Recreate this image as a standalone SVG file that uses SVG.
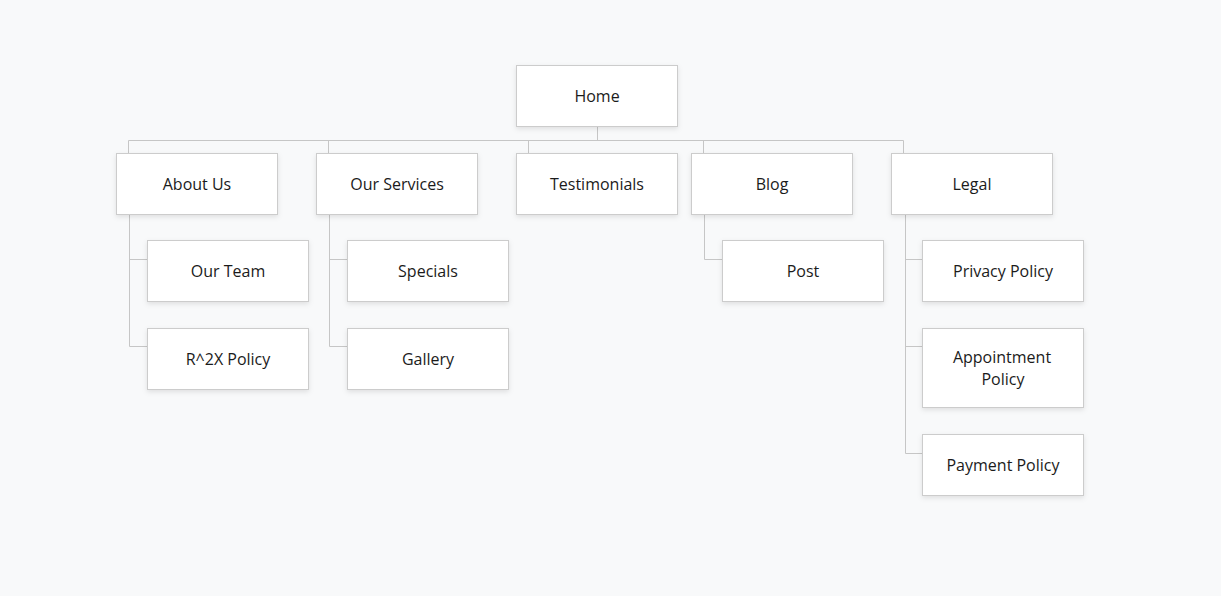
<svg xmlns="http://www.w3.org/2000/svg" width="1221" height="596" viewBox="0 0 1221 596">
<defs>
<filter id="sh" x="-10%" y="-10%" width="120%" height="130%">
<feDropShadow dx="0" dy="2" stdDeviation="2.5" flood-color="#000" flood-opacity="0.10"/>
</filter>
</defs>
<style>
.n rect{fill:#fff;stroke:#cccccc;stroke-width:1;filter:url(#sh)}
.n text{font-family:"Open Sans","Noto Sans",sans-serif;font-size:16px;fill:#1b1b1b;text-anchor:middle;dominant-baseline:central}
.c path{fill:none;stroke:#c6c6c6;stroke-width:1}
</style>
<rect x="0" y="0" width="1221" height="596" fill="#f8f9fa"/>
<g id="connectors" class="c">
<path d="M597.5,127 V140.5 M128.5,140.5 H903.5 M128.5,140.5 V153 M328.5,140.5 V153 M528.5,140.5 V153 M703.5,140.5 V153 M903.5,140.5 V153"/>
<path d="M129.5,214 V346.5 M129.5,259.5 H147 M129.5,346.5 H147"/>
<path d="M329.5,214 V346.5 M329.5,259.5 H347 M329.5,346.5 H347"/>
<path d="M704.5,214 V259.5 H722"/>
<path d="M905.5,214 V453.5 M905.5,259.5 H922 M905.5,346.5 H922 M905.5,453.5 H922"/>
</g>
<g id="home" class="n"><rect x="516.5" y="65.5" width="161" height="61"/><text x="597" y="96">Home</text></g>
<g id="about" class="n"><rect x="116.5" y="153.5" width="161" height="61"/><text x="197" y="184">About Us</text></g>
<g id="services" class="n"><rect x="316.5" y="153.5" width="161" height="61"/><text x="397" y="184">Our Services</text></g>
<g id="testimonials" class="n"><rect x="516.5" y="153.5" width="161" height="61"/><text x="597" y="184">Testimonials</text></g>
<g id="blog" class="n"><rect x="691.5" y="153.5" width="161" height="61"/><text x="772" y="184">Blog</text></g>
<g id="legal" class="n"><rect x="891.5" y="153.5" width="161" height="61"/><text x="972" y="184">Legal</text></g>
<g id="team" class="n"><rect x="147.5" y="240.5" width="161" height="61"/><text x="228" y="271">Our Team</text></g>
<g id="r2x" class="n"><rect x="147.5" y="328.5" width="161" height="61"/><text x="228" y="359">R^2X Policy</text></g>
<g id="specials" class="n"><rect x="347.5" y="240.5" width="161" height="61"/><text x="428" y="271">Specials</text></g>
<g id="gallery" class="n"><rect x="347.5" y="328.5" width="161" height="61"/><text x="428" y="359">Gallery</text></g>
<g id="post" class="n"><rect x="722.5" y="240.5" width="161" height="61"/><text x="803" y="271">Post</text></g>
<g id="privacy" class="n"><rect x="922.5" y="240.5" width="161" height="61"/><text x="1003" y="271">Privacy Policy</text></g>
<g id="appointment" class="n"><rect x="922.5" y="328.5" width="161" height="79"/><text x="1002" y="357">Appointment</text><text x="1003" y="379">Policy</text></g>
<g id="payment" class="n"><rect x="922.5" y="434.5" width="161" height="61"/><text x="1003" y="465">Payment Policy</text></g>
</svg>
